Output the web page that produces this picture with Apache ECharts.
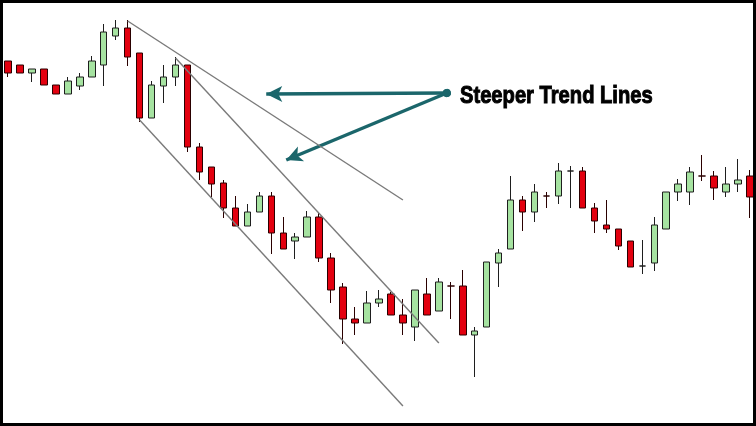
<!DOCTYPE html>
<html>
<head>
<meta charset="utf-8">
<script src="https://cdn.jsdelivr.net/npm/echarts@6/dist/echarts.min.js"></script>
<style>
html,body{margin:0;padding:0;background:#fff;}
#chart{width:756px;height:426px;}
</style>
</head>
<body>
<div id="chart"></div>
<script>
// ---- data (price units) ----
const categories = Array.from({length: 63}, (_, i) => 'D' + (i + 1));
const opens  = [365,361,353,357,341,332,340,349,361,390,398,373,308,340,349,361,279,259,243,218,200,214,230,193,185,189,209,168,139,107,103,123,132,111,99,132,115,140,140,91,99,163,177,226,214,230,230,255,255,218,201,197,185,160,163,197,234,234,250,250,234,242,250];
const closes = [353,353,357,341,332,345,349,365,394,398,369,308,341,349,361,279,254,242,218,200,214,230,193,177,189,209,168,136,107,103,123,127,111,103,136,111,144,140,91,95,164,173,226,214,234,230,255,255,218,205,197,180,159,160,201,234,242,254,250,238,242,246,229];
const lows   = [349,353,344,341,332,332,336,349,340,386,360,304,308,323,340,274,246,229,208,200,200,214,172,177,167,189,164,123,82,91,103,119,111,91,85,111,115,107,91,49,99,139,177,195,204,218,222,218,218,193,193,176,159,152,155,197,225,221,245,226,229,234,208];
const highs  = [365,361,357,357,341,349,353,370,402,406,406,373,345,361,369,361,283,259,246,230,222,234,234,209,193,215,213,173,143,119,135,136,134,127,136,148,148,144,156,99,164,177,250,230,242,234,263,260,259,223,226,197,185,186,209,234,247,259,271,255,259,267,256];

// trend lines: [startIndex, startPrice, endIndex, endPrice]
const trendLines = [
  [10, 405, 33, 226],
  [14, 368, 36, 83],
  [11, 306, 33, 20]
];
// annotation arrows (index / price units)
const arrowStart = [36.67, 333];
const arrowEnds = [[21.58, 332], [23.25, 266]];
const annotationText = 'Steeper Trend Lines';

const ohlc = categories.map((c, i) => [opens[i], closes[i], lows[i], highs[i]]);

const chart = echarts.init(document.getElementById('chart'), null, {renderer: 'canvas'});

const teal = '#1b666b';

const series = [{
  type: 'candlestick',
  xAxisIndex: 0,
  yAxisIndex: 0,
  data: ohlc,
  barWidth: 7,
  itemStyle: {
    color: '#a6e3a1',
    color0: '#e3000f',
    borderColor: '#1e1e1e',
    borderColor0: '#2a0000',
    borderWidth: 1
  },
  emphasis: {disabled: true}
}];

trendLines.forEach((t, k) => {
  series.push({
    type: 'line',
    xAxisIndex: 1,
    yAxisIndex: 0,
    data: [[t[0], t[1]], [t[2], t[3]]],
    symbol: 'none',
    lineStyle: {color: '#7a7a7a', width: 1.4},
    z: 5,
    silent: true,
    markLine: k === 0 ? {
      silent: true,
      animation: false,
      label: {show: false},
      lineStyle: {color: teal, width: 3.5, type: 'solid', opacity: 1},
      data: arrowEnds.map(e => [
        {coord: arrowStart, symbol: 'circle', symbolSize: 8},
        {coord: e, symbol: 'arrow', symbolSize: [12, 16]}
      ])
    } : undefined
  });
});

chart.setOption({
  animation: false,
  backgroundColor: '#ffffff',
  grid: {left: 2, top: 0, width: 756, height: 426},
  xAxis: [
    {type: 'category', data: categories, show: false, boundaryGap: true},
    {type: 'value', min: -0.5, max: 62.5, show: false}
  ],
  yAxis: [{type: 'value', min: 0, max: 426, show: false}],
  series: series,
  graphic: [
    {
      type: 'text',
      x: 460,
      y: 84,
      scaleX: 0.84,
      originX: 0,
      style: {
        text: annotationText,
        font: 'bold 24px "Liberation Sans", sans-serif',
        fill: '#000',
        stroke: '#000',
        lineWidth: 1,
        verticalAlign: 'top'
      },
      z: 100
    },
    {
      type: 'rect',
      shape: {x: 1.5, y: 1.5, width: 753, height: 423},
      style: {fill: 'none', stroke: '#000', lineWidth: 3},
      z: 100,
      silent: true
    }
  ]
});
</script>
</body>
</html>
